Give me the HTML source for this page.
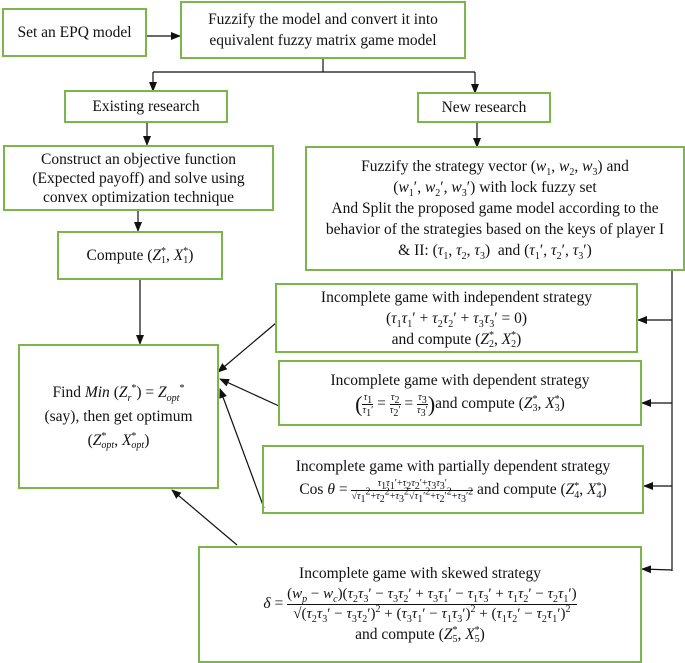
<!DOCTYPE html>
<html><head><meta charset="utf-8"><style>
body{margin:0;width:685px;height:662px;background:#fff;position:relative;overflow:hidden;font-family:"Liberation Serif",serif;color:#111}
.b{position:absolute;border:2px solid #7cb54a;box-sizing:border-box;display:flex;flex-direction:column;align-items:center;justify-content:center;text-align:center;font-size:15.5px;line-height:21px}
i{font-style:italic}
sub,sup{font-size:10px;line-height:0}
.st{display:inline-flex;flex-direction:column;vertical-align:middle;font-size:10px;line-height:9px;text-align:left}
.fr{display:inline-flex;flex-direction:column;vertical-align:middle;text-align:center;font-size:10px;line-height:12px}
.fr>span:first-child{border-bottom:1px solid #111}
.fr2{display:inline-flex;flex-direction:column;vertical-align:middle;text-align:center;font-size:15px;line-height:19px}
.fr2>span:first-child{border-bottom:1px solid #111}
svg{position:absolute;left:0;top:0}
</style></head><body>
<svg width="685" height="662">
<defs><marker id="a" markerWidth="10" markerHeight="8" refX="9" refY="4" orient="auto" markerUnits="userSpaceOnUse"><path d="M0,0L10,4L0,8z" fill="#111"/></marker></defs>
<g stroke="#111" stroke-width="1.2" fill="none">
<line x1="146" y1="36" x2="180" y2="36" marker-end="url(#a)"/>
<line x1="323" y1="58" x2="323" y2="72"/>
<line x1="153" y1="72" x2="475" y2="72"/>
<line x1="153" y1="72" x2="153" y2="91" marker-end="url(#a)"/>
<line x1="475" y1="72" x2="475" y2="93" marker-end="url(#a)"/>
<line x1="147" y1="122" x2="147" y2="145" marker-end="url(#a)"/>
<line x1="477" y1="122" x2="477" y2="147" marker-end="url(#a)"/>
<line x1="138" y1="210" x2="138" y2="231" marker-end="url(#a)"/>
<line x1="140" y1="279" x2="140" y2="344" marker-end="url(#a)"/>
<line x1="672" y1="270" x2="672" y2="571"/>
<line x1="672" y1="320" x2="638" y2="320" marker-end="url(#a)"/>
<line x1="672" y1="403" x2="642" y2="403" marker-end="url(#a)"/>
<line x1="672" y1="486" x2="644" y2="486" marker-end="url(#a)"/>
<line x1="672" y1="570" x2="642" y2="569" marker-end="url(#a)"/>
<line x1="276" y1="323" x2="218" y2="372" marker-end="url(#a)"/>
<line x1="279" y1="406" x2="220" y2="379" marker-end="url(#a)"/>
<line x1="264" y1="508" x2="220" y2="389" marker-end="url(#a)"/>
<line x1="237" y1="545" x2="172" y2="490" marker-end="url(#a)"/>
</g></svg>
<div class="b" style="left:2px;top:8px;width:145px;height:49px"><div>Set an EPQ model</div></div>
<div class="b" style="left:180px;top:1px;width:286px;height:58px"><div>Fuzzify the model and convert it into<br>equivalent fuzzy matrix game model</div></div>
<div class="b" style="left:64px;top:90px;width:164px;height:33px"><div>Existing research</div></div>
<div class="b" style="left:417px;top:92px;width:134px;height:31px"><div>New research</div></div>
<div class="b" style="left:3px;top:145px;width:271px;height:66px;line-height:19px"><div>Construct an objective function<br>(Expected payoff) and solve using<br>convex optimization technique</div></div>
<div class="b" style="left:305px;top:146px;width:380px;height:125px;line-height:21px">
<div>Fuzzify the strategy vector (<i>w</i><sub>1</sub>, <i>w</i><sub>2</sub>, <i>w</i><sub>3</sub>) and</div>
<div>(<i>w</i><sub>1</sub>′, <i>w</i><sub>2</sub>′, <i>w</i><sub>3</sub>′) with lock fuzzy set</div>
<div>And Split the proposed game model according to the</div>
<div>behavior of the strategies based on the keys of player I</div>
<div>&amp; II: (<i>τ</i><sub>1</sub>, <i>τ</i><sub>2</sub>, <i>τ</i><sub>3</sub>) &nbsp;and (<i>τ</i><sub>1</sub>′, <i>τ</i><sub>2</sub>′, <i>τ</i><sub>3</sub>′)</div></div>
<div class="b" style="left:57px;top:231px;width:166px;height:49px"><div>Compute (<i>Z</i><span class="st"><span>*</span><span>1</span></span>, <i>X</i><span class="st"><span>*</span><span>1</span></span>)</div></div>
<div class="b" style="left:18px;top:344px;width:201px;height:145px;line-height:24px">
<div>Find <i>Min</i> (<i>Z<sub>r</sub></i><sup>*</sup>) = <i>Z<sub>opt</sub></i><sup>*</sup></div>
<div>(say), then get optimum</div>
<div>(<i>Z</i><span class="st"><span>*</span><i>opt</i></span>, <i>X</i><span class="st"><span>*</span><i>opt</i></span>)</div></div>
<div class="b" style="left:275px;top:283px;width:363px;height:70px;line-height:21px">
<div>Incomplete game with independent strategy</div>
<div>(<i>τ</i><sub>1</sub><i>τ</i><sub>1</sub>′ + <i>τ</i><sub>2</sub><i>τ</i><sub>2</sub>′ + <i>τ</i><sub>3</sub><i>τ</i><sub>3</sub>′ = 0)</div>
<div>and compute (<i>Z</i><span class="st"><span>*</span><span>2</span></span>, <i>X</i><span class="st"><span>*</span><span>2</span></span>)</div></div>
<div class="b" style="left:278px;top:360px;width:364px;height:66px;line-height:22px">
<div>Incomplete game with dependent strategy</div>
<div><span style="font-size:22px;vertical-align:middle">(</span><span class="fr"><span><i>τ</i><sub>1</sub></span><span><i>τ</i><sub>1</sub>′</span></span> = <span class="fr"><span><i>τ</i><sub>2</sub></span><span><i>τ</i><sub>2</sub>′</span></span> = <span class="fr"><span><i>τ</i><sub>3</sub></span><span><i>τ</i><sub>3</sub>′</span></span><span style="font-size:22px;vertical-align:middle">)</span>and compute (<i>Z</i><span class="st"><span>*</span><span>3</span></span>, <i>X</i><span class="st"><span>*</span><span>3</span></span>)</div></div>
<div class="b" style="left:262px;top:445px;width:382px;height:69px;line-height:22px">
<div>Incomplete game with partially dependent strategy</div>
<div>Cos <i>θ</i> = <span class="fr"><span><i>τ</i><sub>1</sub><i>τ</i><sub>1</sub>′+<i>τ</i><sub>2</sub><i>τ</i><sub>2</sub>′+<i>τ</i><sub>3</sub><i>τ</i><sub>3</sub>′</span><span>√<i>τ</i><sub>1</sub><sup>2</sup>+<i>τ</i><sub>2</sub><sup>2</sup>+<i>τ</i><sub>3</sub><sup>2</sup>√<i>τ</i><sub>1</sub>′<sup>2</sup>+<i>τ</i><sub>2</sub>′<sup>2</sup>+<i>τ</i><sub>3</sub>′<sup>2</sup></span></span> and compute (<i>Z</i><span class="st"><span>*</span><span>4</span></span>, <i>X</i><span class="st"><span>*</span><span>4</span></span>)</div></div>
<div class="b" style="left:198px;top:546px;width:444px;height:117px;line-height:22px">
<div>Incomplete game with skewed strategy</div>
<div><i>δ</i> = <span class="fr2"><span>(<i>w<sub>p</sub></i> − <i>w<sub>c</sub></i>)(<i>τ</i><sub>2</sub><i>τ</i><sub>3</sub>′ − <i>τ</i><sub>3</sub><i>τ</i><sub>2</sub>′ + <i>τ</i><sub>3</sub><i>τ</i><sub>1</sub>′ − <i>τ</i><sub>1</sub><i>τ</i><sub>3</sub>′ + <i>τ</i><sub>1</sub><i>τ</i><sub>2</sub>′ − <i>τ</i><sub>2</sub><i>τ</i><sub>1</sub>′)</span><span>√(<i>τ</i><sub>2</sub><i>τ</i><sub>3</sub>′ − <i>τ</i><sub>3</sub><i>τ</i><sub>2</sub>′)<sup>2</sup> + (<i>τ</i><sub>3</sub><i>τ</i><sub>1</sub>′ − <i>τ</i><sub>1</sub><i>τ</i><sub>3</sub>′)<sup>2</sup> + (<i>τ</i><sub>1</sub><i>τ</i><sub>2</sub>′ − <i>τ</i><sub>2</sub><i>τ</i><sub>1</sub>′)<sup>2</sup></span></span></div>
<div>and compute (<i>Z</i><span class="st"><span>*</span><span>5</span></span>, <i>X</i><span class="st"><span>*</span><span>5</span></span>)</div></div>
</body></html>
